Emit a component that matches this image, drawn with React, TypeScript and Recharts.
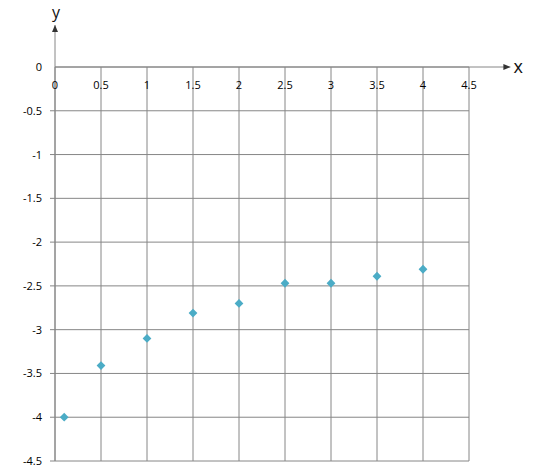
import React from "react";
import {
  ScatterChart,
  Scatter,
  XAxis,
  YAxis,
  CartesianGrid,
  ReferenceLine,
} from "recharts";

// values
const xValues = [0.1, 0.5, 1, 1.5, 2, 2.5, 3, 3.5, 4];
const yValues = [-4.0, -3.41, -3.1, -2.81, -2.7, -2.47, -2.47, -2.39, -2.31];

const xTicks = [0, 0.5, 1, 1.5, 2, 2.5, 3, 3.5, 4, 4.5];
const yTicks = [0, -0.5, -1, -1.5, -2, -2.5, -3, -3.5, -4, -4.5];

const points = xValues.map((x, i) => ({ x, y: yValues[i] }));

const GRID = "#868686";
const MARKER = "#4BACC6";
const FONT = "'Open Sans', sans-serif";

const renderXTick = (props: any) => {
  const { x, payload } = props;
  return (
    <text x={x} y={89} textAnchor="middle" fontSize={11} fontFamily={FONT} fill="#000">
      {payload.value}
    </text>
  );
};

const renderYTick = (props: any) => {
  const { y, payload } = props;
  return (
    <g>
      {payload.value !== 0 && <line x1={50} y1={y} x2={55} y2={y} stroke={GRID} />}
      <text x={42} y={y + 4} textAnchor="end" fontSize={11} fontFamily={FONT} fill="#000">
        {payload.value}
      </text>
    </g>
  );
};

// square diamond marker
const renderDiamond = (props: any) => {
  const { cx, cy } = props;
  const r = 4.4;
  return (
    <polygon
      points={`${cx},${cy - r} ${cx + r},${cy} ${cx},${cy + r} ${cx - r},${cy}`}
      fill={MARKER}
    />
  );
};

// axis line with an arrow head and a letter at its end
const arrowAxis = (name: string, dir: "x" | "y") => (props: any) => {
  const { x1, y1, x2, y2 } = props;
  const head =
    dir === "x"
      ? `${x2},${y2} ${x2 - 7},${y2 - 3} ${x2 - 7},${y2 + 3}`
      : `${x2},${y2} ${x2 - 3},${y2 + 7} ${x2 + 3},${y2 + 7}`;
  return (
    <g>
      <line x1={x1} y1={y1} x2={x2} y2={y2} stroke={GRID} strokeWidth={1} />
      <polygon points={head} fill="#333" />
      {dir === "x" ? (
        <text x={x2 + 3} y={y2 + 6} fontSize={18} fontFamily={FONT} fill="#111">
          {name}
        </text>
      ) : (
        <text x={x2 + 1} y={y2 - 7} textAnchor="middle" fontSize={16} fontFamily={FONT} fill="#111">
          {name}
        </text>
      )}
    </g>
  );
};

export default function App() {
  return (
    <div style={{ position: "absolute", left: 0, top: 0, background: "#fff" }}>
      <ScatterChart
        width={539}
        height={475}
        margin={{ top: 66, left: 54, right: 70, bottom: 14 }}
      >
        <CartesianGrid stroke={GRID} />
        <XAxis
          type="number"
          dataKey="x"
          orientation="top"
          domain={[0, 4.5]}
          ticks={xTicks}
          height={1}
          axisLine={false}
          tickLine={false}
          tick={renderXTick}
          interval={0}
        />
        <YAxis
          type="number"
          dataKey="y"
          domain={[-4.5, 0]}
          ticks={yTicks}
          width={1}
          axisLine={false}
          tickLine={false}
          tick={renderYTick}
          interval={0}
        />
        <ReferenceLine
          segment={[{ x: 0, y: 0 }, { x: 4.95, y: 0 }]}
          ifOverflow="visible"
          shape={arrowAxis("x", "x")}
        />
        <ReferenceLine
          segment={[{ x: 0, y: -4.5 }, { x: 0, y: 0.48 }]}
          ifOverflow="visible"
          shape={arrowAxis("y", "y")}
        />
        <Scatter data={points} shape={renderDiamond} isAnimationActive={false} />
      </ScatterChart>
    </div>
  );
}
